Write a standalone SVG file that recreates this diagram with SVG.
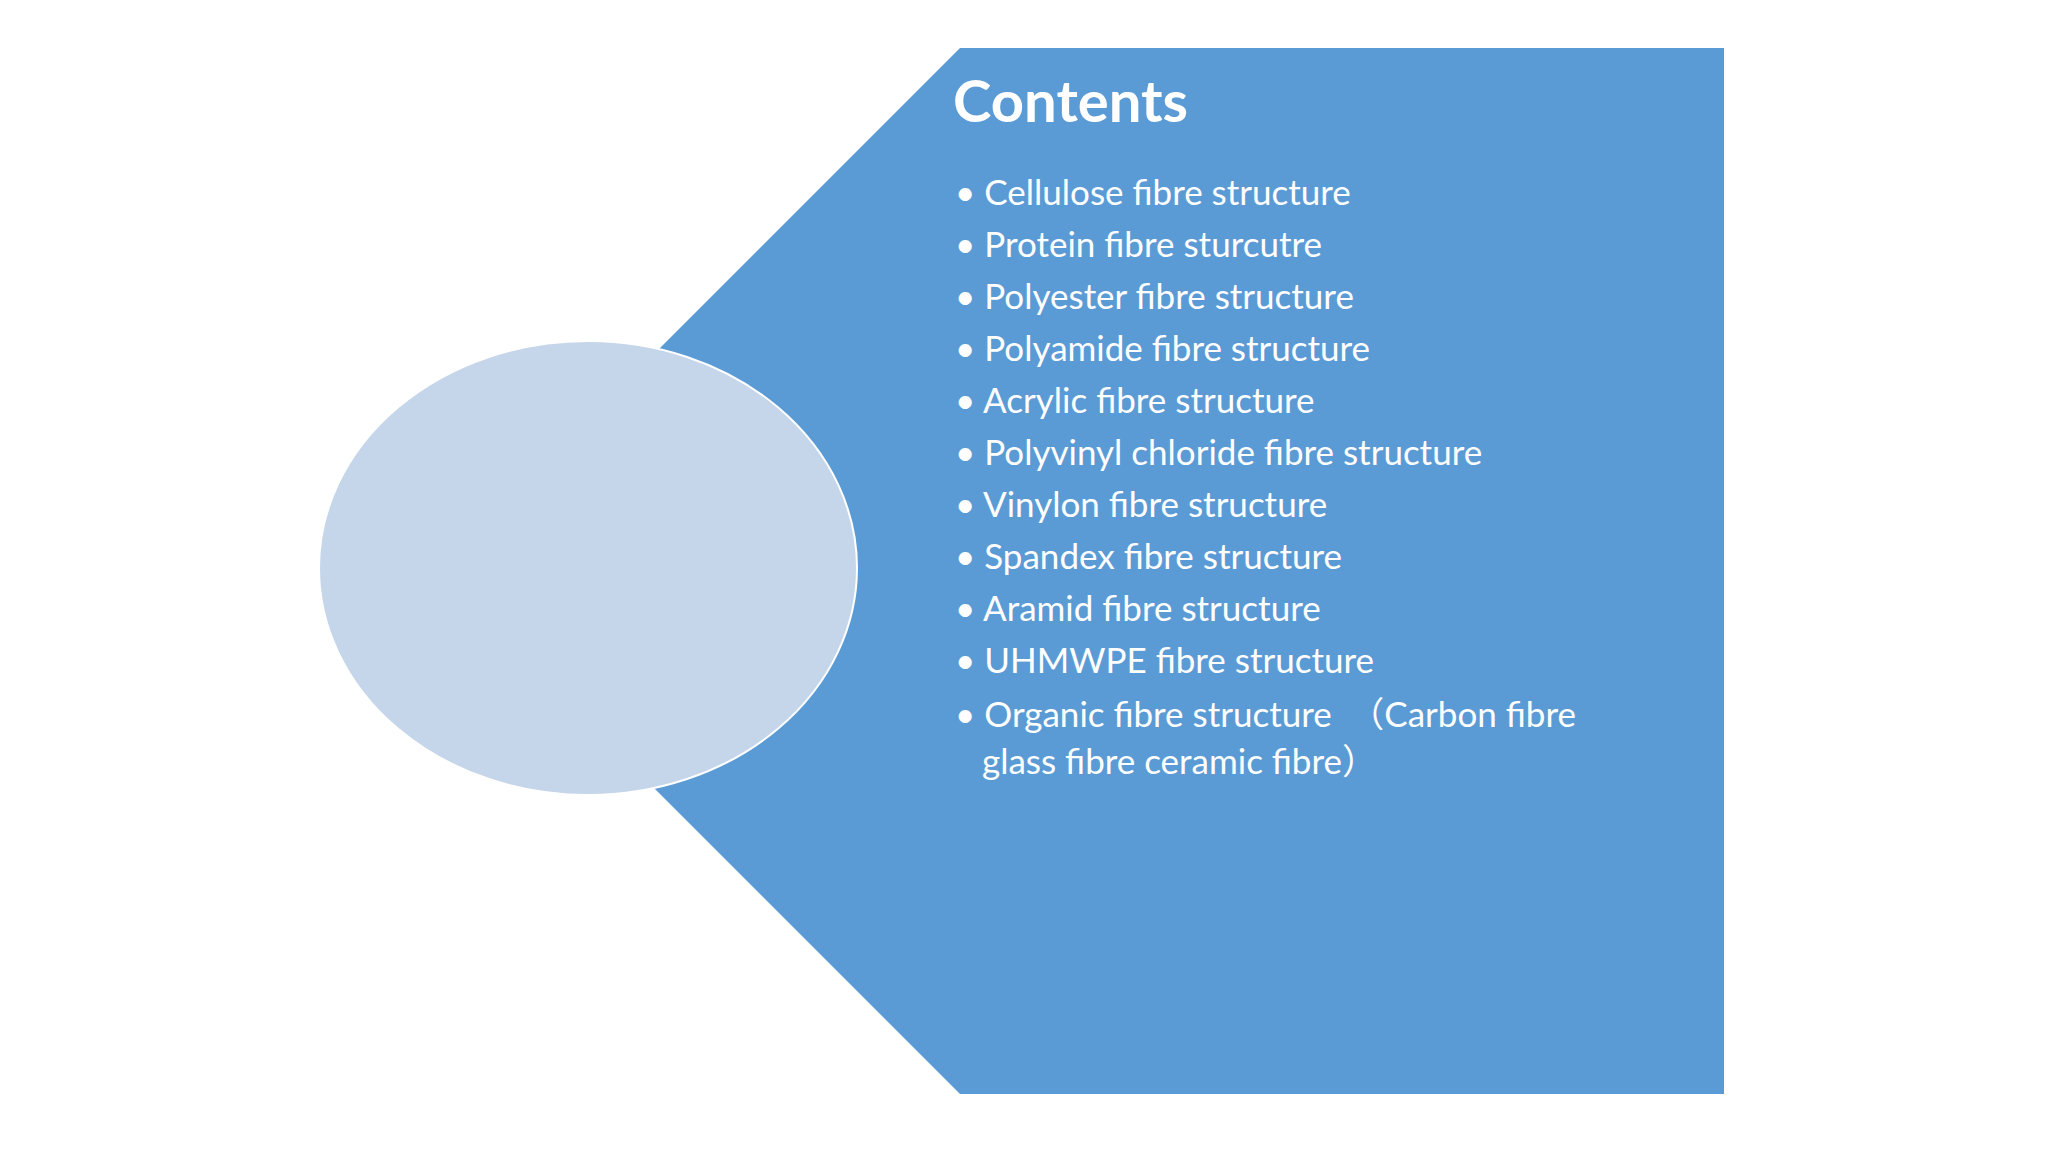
<svg xmlns="http://www.w3.org/2000/svg" width="2048" height="1152" viewBox="0 0 2048 1152">
<style>
.t{font-family:Lato,"Noto Sans CJK SC",sans-serif;font-size:35px;fill:#fff}
</style>
<rect width="2048" height="1152" fill="#fff"/>
<g id="shape"><polygon points="960,48 1724,48 1724,1094 960,1094 437,571" fill="#5b9bd5"/></g>
<g id="circle"><ellipse cx="588" cy="568" rx="269" ry="227" fill="#c5d5ea" stroke="#fff" stroke-width="2"/></g>
<g id="text">
<text x="953" y="122" style="font-family:Lato,sans-serif;font-size:58px;font-weight:bold;fill:#fff">Contents</text>
<g class="t">
<text x="955" y="205">• Cellulose fibre structure</text>
<text x="955" y="257">• Protein fibre sturcutre</text>
<text x="955" y="309">• Polyester fibre structure</text>
<text x="955" y="361">• Polyamide fibre structure</text>
<text x="955" y="413">• Acrylic fibre structure</text>
<text x="955" y="465">• Polyvinyl chloride fibre structure</text>
<text x="955" y="517">• Vinylon fibre structure</text>
<text x="955" y="569">• Spandex fibre structure</text>
<text x="955" y="621">• Aramid fibre structure</text>
<text x="955" y="673">• UHMWPE fibre structure</text>
<text x="955" y="727">• Organic fibre structure　（Carbon fibre</text>
<text x="982" y="774">glass fibre  ceramic fibre）</text>
</g>
</g>
</svg>
